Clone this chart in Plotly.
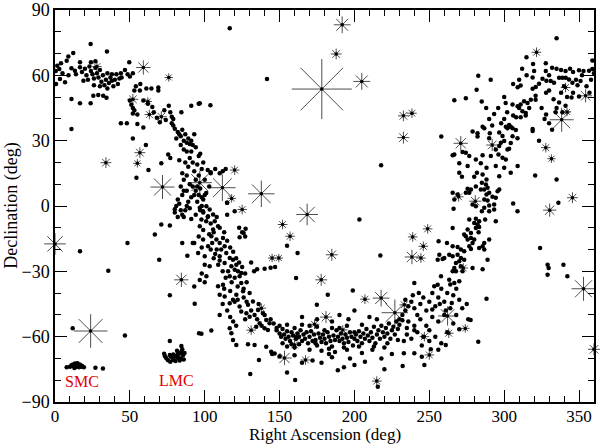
import plotly.graph_objects as go

# ------------------------------------------------------------
# source positions (RA deg, Dec deg)
# ------------------------------------------------------------

north_west = [
    [0.5, 62], [1.5, 64.4], [2.9, 62.9], [0.7, 56], [3.3, 58.3], [7.8, 66.7], [8.9, 68.7],
    [12.2, 70.3], [16.7, 66], [16.7, 63.7], [11, 63.2], [13.3, 62.1], [6.7, 56.8], [5, 61],
    [9, 60], [4, 65.5], [14, 60.5], [18, 61.5], [20, 63], [21, 60], [22, 58], [23, 64],
    [24, 62], [25, 60.5], [26, 58.5], [27, 63.5], [28, 61], [29, 59], [30, 62.5], [31, 57],
    [32, 60], [33, 55.5], [34, 58], [35, 61], [36, 56.5], [37, 59], [38, 57.5], [39, 55],
    [40, 58], [41, 60.5], [42, 56], [43, 58.5], [44, 61], [19, 57.5], [23.8, 74.4],
    [34.7, 70.9], [26, 55.5], [30, 55], [35, 54], [38, 60.5], [24, 66], [27, 66.5],
    [11, 49.1], [16.7, 47.2], [11, 35.3], [23.8, 47.2], [25.6, 50.6], [28.9, 51],
    [32.2, 50.6], [34.4, 49.7], [49.6, 66], [46.7, 62.5], [48.5, 60.5], [50, 59.5],
    [52, 61], [44.5, 59], [54, 55], [53, 53], [56.7, 53], [61, 54], [64.4, 54], [69, 54.4],
    [69, 53], [57, 56], [50, 48.5], [51, 46.5], [52, 45], [53, 44], [55, 42], [52, 42.5],
    [59, 48.5], [62, 47], [65, 45.5], [66, 43], [68, 40.5], [73, 44], [76, 46], [77, 43],
    [78, 41], [79, 40], [78, 38], [84.4, 43], [91, 46], [96, 47], [103.8, 46.3], [70, 38.5],
    [74, 39.5], [44, 38], [48, 38], [55, 37.6], [59, 36], [52, 31], [60.7, 28],
]

band_west = [
    [79, 37], [80, 35.5], [82, 34], [83, 33], [84, 32], [86, 30], [88, 29], [90, 28.5],
    [92, 28], [93, 33], [81, 31], [85, 35], [87, 33], [89, 31], [91, 30], [94, 27], [84, 28],
    [86, 26], [88, 25], [83, 21], [85, 15], [86, 12], [88, 14], [89, 18], [90, 22], [91, 25],
    [92, 20], [93, 16], [94, 12], [95, 19], [96, 23], [87, 20], [84, 9], [85, 5], [86, 7],
    [92, 9], [93, 5], [94, 7], [80, -3], [81, 0], [82, 3], [83, 1], [84, -2], [85, -4],
    [86, -5], [87, -2], [88, 0], [89, 2], [90, -1], [91, -6], [94, -4], [95, 2], [96, 5],
    [97, -2], [98, 0], [97, 8], [96, 14], [95, 9], [98, 4], [99, -3], [90, 10], [88, 7],
    [91, 4], [80, -1.5], [82, -5], [96.7, -0.8], [98.9, -2.4], [101.1, -0.1], [103.3, -1.6],
    [102.2, -4.7], [105.6, -3.9], [106.7, -7], [108.9, -9.3], [105.6, -10.8], [104.4, -13.9],
    [107.8, -15.4], [110, -17], [112.2, -14.7], [113.3, -18.5], [114.4, -21.6], [116.7, -23.9],
    [118.9, -24.7], [117.8, -27.7], [121.1, -27], [122.2, -30], [124.4, -30.8], [124.4, -35.4],
    [116.7, -32.3], [112.2, -36.2], [108.9, -36.9], [101.1, -32.3], [103.3, -27.7], [100, -23.1],
    [98.9, -15.4], [102.2, -18.5], [110, -23.1], [113.3, -26.2], [123.3, -32.3], [115.6, -30],
    [120, -29.3], [96.7, -9.3], [97.8, -6.2], [100, 5], [102, -5], [104, -8], [106, -12],
    [108, -5], [110, -10], [111, -20], [113, -12], [115, -16], [117, -19], [119, -21],
    [121, -24], [123, -26], [125, -28], [127, -31], [108, -20], [106, -24], [109, -27],
    [112, -30], [114, -33], [118, -35], [120, -33], [122, -37], [126, -38], [128, -35],
    [99, -11], [101, -7], [103, -13], [105, -17], [107, -22], [110, -25], [104, -20],
    [98, -19], [100, -27], [99, 3], [101, 6], [103, 9], [100, 12], [104, 15], [107, 17],
    [110, 15], [112, 16], [114, 17], [102, 16.5], [99, 20], [97, 24], [98, 17], [100, -35],
    [98, -31], [115, 1.5], [120, -2.4], [115, -4], [123, -10], [125, -12], [127, -14],
    [123.3, -14.4], [126, -12.4], [127.3, -10.5],
]

south_arc = [
    [110, -40.8], [113.3, -41.5], [116.7, -44.6], [118.9, -43], [121.1, -40.8], [125.6, -39.2],
    [130, -40], [132.2, -43.9], [128.9, -45.4], [123.3, -46.2], [124.4, -48.5], [127.8, -49.2],
    [130, -50.8], [133.3, -50], [135.6, -47.7], [138.9, -49.2], [141.1, -52.3], [143.3, -53.8],
    [136.7, -53.8], [134.4, -55.4], [140, -56.1], [142.2, -56.9], [117.8, -58.4], [116.7, -56.1],
    [118.9, -61.5], [121.1, -63.8], [128.9, -63.5], [133.3, -63.8], [141.1, -64.6],
    [144.4, -66.9], [146.7, -67.7], [126, -42], [128, -44], [120, -44], [135, -52], [138, -55],
    [131, -48], [127, -52], [136, -45], [140, -50], [144, -52], [146, -54], [148, -56],
    [112, -45], [115, -48], [117, -51], [119, -53], [121, -55], [110, -50], [113, -38],
    [117, -39], [122, -43],
    [148, -57], [150, -58.5], [151, -60], [152, -56.5], [153, -59], [154, -61], [155, -57.5],
    [156, -60], [157, -62], [158, -58], [159, -59.5], [160, -56], [161, -61], [162, -58.5],
    [150, -55], [155, -54.5], [158, -63.5], [152, -63], [163, -60], [164, -57], [165, -62],
    [166, -59], [167, -61], [168, -58], [169, -63], [170, -60], [171, -57.5], [172, -62],
    [173, -59], [174, -61.5], [175, -64], [176, -58.5], [177, -60.5], [178, -62.5], [179, -59],
    [180, -61], [181, -63], [182, -58], [183, -60], [184, -62], [185, -64.5], [186, -59.5],
    [187, -61.5], [188, -57], [189, -60], [190, -62], [191, -58.5], [192, -61], [193, -63],
    [194, -59], [195, -60.5], [196, -62.5], [197, -58], [198, -60], [199, -64], [200, -61],
    [201, -59], [202, -62], [203, -57.5], [204, -60], [205, -63], [206, -58.5], [207, -61],
    [208, -56.5], [209, -59.5], [210, -62], [211, -58], [212, -60.5], [213, -55.5], [214, -63],
    [215, -59], [216, -57], [217, -61], [218, -55], [219, -58], [220, -60], [221, -56],
    [222, -58.5], [223, -54], [224, -61], [225, -57], [226, -55.5], [227, -59], [228, -53],
    [229, -56.5], [230, -54.5], [160, -65], [170, -66], [178, -66.5], [187, -67], [195, -66],
    [205, -67.5], [212, -66], [220, -65], [165, -54.5], [175, -55.5], [185, -56], [195, -55],
    [205, -54.5], [215, -52], [155, -64.5], [200, -58], [190, -56], [180, -57], [170, -55],
    [163, -63.5], [174, -63], [183, -65.5], [193, -65], [203, -64.5], [213, -64.5], [222, -63],
    [229, -61.5], [235, -59], [240, -57], [232, -52.5],
    [230, -52], [232, -50], [234, -48], [236, -46], [238, -44], [240, -47], [242, -50],
    [244, -45], [246, -42], [248, -48], [250, -44], [252, -40], [254, -46], [256, -42],
    [258, -38], [260, -44], [262, -40], [264, -36], [266, -41], [268, -38], [270, -43],
    [236, -53], [240, -55], [244, -52], [248, -55], [252, -51], [256, -53], [260, -50],
    [264, -47], [268, -50], [242, -58], [238, -61], [246, -60], [250, -57], [254, -60],
    [258, -63], [262, -58], [266, -54], [272, -47], [275, -45], [276, -52], [277.6, -52.3],
    [270, -56.6], [261, -63.8], [282.7, -62.3], [288.2, -42.6], [250, -62], [245, -64],
    [256, -66], [235, -56], [233, -62], [252, -47.5], [257, -45], [261, -48], [265, -44.5],
    [243, -40], [239, -41], [234, -43],
]

band_east = [
    [256.2, -16.2], [261.8, -17], [263.3, -22.4], [265.6, -23.1], [268.9, -22.4], [271.1, -23.9],
    [273.3, -24.7], [270, -25.4], [267.8, -26.2], [266.7, -28.5], [265.6, -30], [267.8, -30],
    [271.1, -27.7], [272.2, -30], [256.7, -22.4], [258.9, -24.3], [260, -23.9], [255.6, -24.7],
    [278.9, -28.5], [285.6, -29], [288.9, -24.7], [286.7, -20], [290, -15.4], [257.8, -32.3],
    [263.3, -33.9], [266.7, -35.4], [270, -34.6], [253.3, -36.9], [255.6, -36.2],
    [265.6, -18.5], [268.9, -18.8], [271.1, -20], [273.3, -20.8], [276.7, -18.5], [277.8, -19.7],
    [283.3, -19.3], [285.6, -18.5], [286.7, -17], [274.4, -13.9], [275.6, -15.4], [277.8, -14.7],
    [280, -15.4], [278.9, -17], [273.3, -13.1], [275.6, -10.8], [277.8, -12.4], [281.1, -10.1],
    [283.3, -9.6], [282.9, -12.1], [265.6, -10.1], [276.7, -6.2], [281.1, -5.9], [283.3, -7],
    [282.2, -8.5], [280, -7.8], [287.3, -6.2], [294.4, -7], [278.9, 0.7], [281.1, -0.1],
    [286.7, -0.8], [285.1, -2.4], [290, -2.4], [293.3, -1.6], [266.2, -1.3], [290, 6.1],
    [288.2, 5.3], [292.2, 4.2], [286.7, 3], [288.9, 2.5], [290, 0.2], [293.3, 0.7],
    [296.7, 7.6], [295.6, 6.8], [294.4, 3.8], [285.1, 10.7], [287.8, 9.9], [288.9, 8.4],
    [286.7, 7.6], [284.4, 7.6], [265.6, 6.1], [268.9, 5.3], [266.7, 3], [274.4, 6.1],
    [276.7, 6.1], [275.6, 7.9], [277.8, 7.6], [266.7, 23.7], [265.6, 23.3], [272.2, 24.8],
    [274.4, 24.5], [270, 19.6], [271.8, 13.4], [281.8, 15.3], [285.6, 23.3], [291.1, 23],
    [288.2, 17.6], [294.4, 18.4], [296.2, 23.7], [298.9, 22.2], [301.1, 21.4], [303.3, 26.3],
    [302.2, 26], [297.8, 29.1], [296.7, 27.6], [304.4, 15.3], [309, 18.4], [280, 13.4],
    [281.1, 9], [285.6, 14.5], [288.2, 12.2], [296.7, 13.7], [300, 17.6], [294.4, 26],
    [284.4, 19.6], [281.1, 21.4], [276.7, 23], [270, 15.3], [275.6, 18.4],
]

north_east = [
    [258, 31.9], [266.7, 48.6], [274.4, 49.5], [281.6, 53.4], [282.7, 59.8], [291, 58],
    [314.9, 68.3], [319.3, 65.2], [327.8, 65.5], [358.9, 66.8], [358.9, 62.9], [356.7, 62.1],
    [353, 62], [350, 62.3], [346, 61.5], [344, 63], [341, 62], [338, 62.5], [335, 63],
    [327.8, 62], [328.2, 57.5], [320, 62], [319, 59], [325.6, 58.4], [323.3, 56.1],
    [321.1, 54.6], [319, 53.8], [331.1, 57.4], [333.3, 56.6], [336.7, 58.9], [338.9, 58.9],
    [341.1, 58.9], [343.3, 58.1], [345.6, 56.6], [349, 55.5], [351, 57.4], [306, 56], [309, 54.5],
    [311, 55.3], [321, 50.6], [328, 52], [330, 53], [333, 49], [336.7, 47.5], [341, 46],
    [345, 49.8], [350, 50.3], [301, 47.3], [305.6, 46.6], [309, 45.8], [310, 45], [311, 46.6],
    [313.3, 48.1], [315.6, 47.3], [312.2, 43.5], [314.4, 42.7], [316.7, 45], [317.8, 48.8],
    [321, 48.8], [306, 41.5], [308, 40.8], [311, 40.8], [314.4, 41.5], [303.3, 37.2],
    [302.2, 35.7], [301.1, 36.4], [304.4, 36.4], [305.6, 35.7], [307.8, 34.9], [319, 35.3],
    [328, 42], [334.4, 43], [338.9, 43], [293.3, 42.2], [292, 37], [296.7, 33.7], [298.9, 32.2],
    [300, 29.9], [278.9, 34.2], [282.2, 33.4], [282.2, 31.9], [285.6, 36.4], [286.7, 35.7],
    [290.4, 33.4], [290, 31.1], [305.6, 32], [304.4, 28.9], [308.9, 31.1], [323.3, 30],
    [319, 34.4], [325, 45], [327, 40], [330, 38], [332, 35], [335, 45], [338, 52], [340, 55],
    [342, 50], [346, 52], [348, 58], [352, 60], [355, 55], [358, 58], [357, 52], [360, 61],
    [330, 60], [332, 63.5], [315, 60], [312, 63], [310, 58], [300, 50], [296, 45], [290, 40],
    [288, 45], [285, 48], [300, 40], [302, 43], [298, 38],
]

scattered = [
    [62.4, 16.5], [71, 19.6], [75.6, 23.7], [77, 22], [71, -8.5], [76.7, -8.9], [66.7, -13.1],
    [69.6, -24.7], [48.4, -17], [35.6, -29.7], [16.7, -20.8], [54.4, 13], [92, -17], [93, -17],
    [85, -17], [88.4, -22.8], [95.6, -21.6], [96, -14], [93, -37], [96.7, -34], [131, -26],
    [135, -29], [140, -28.8], [144, -28.3], [147, -28], [133, -30], [162, -21.6], [155, -18.2],
    [161, -33.1], [203.3, -6.2], [217.8, 18.7], [217.3, -22.7], [141.6, 58.3], [116.7, 81.6],
    [96.7, 47.2], [114.9, 1.5], [104, 15.5], [320.7, 14], [335, 12.2], [336.2, 1.5],
    [308.9, -2.4], [306, 1.2], [324, -19.3], [329, -27], [329.7, -28.5], [329, -31.6],
    [339.6, -27], [342.2, -32.3], [240, -35.4], [335, 77], [104.4, -57.2], [97.8, -58.7],
    [76.7, -41], [93.3, -44.9], [76.7, -62], [46.7, -59.5], [11.8, -56.1], [96.2, -58.4],
    [130.4, -77.2], [160.4, -79.9], [155, -76.4], [136.2, -70.7], [215.6, -83], [188.9, -75.4],
    [172, -71], [178, -72], [185, -69.5], [197, -70], [207, -71.5], [200, -73], [165, -72],
    [150, -69], [145, -68], [160, -68.5], [193, -74], [218, -70], [225, -68], [232.2, -73.5],
    [246.7, -73], [251, -65.8], [245, -69.2], [240, -67.6], [233, -67.6], [220, -75], [183, -68],
    [174.9, -45.4], [182.2, -40.8], [198.9, -38.8], [190, -50], [196, -52], [200, -48],
    [210, -51], [185, -53], [175, -52], [165, -51],
]

smc = [
    [7.8, -74.1], [11, -73.1], [13.3, -72.3], [14.5, -72.6], [15.5, -73.2], [14, -73.8],
    [12.5, -73.6], [16.5, -72.8], [17.8, -73.8], [19.3, -74], [12, -72.8], [15, -72.2],
    [16, -74], [10, -73.8], [13, -74.4], [18, -73.3], [27, -74.3], [32, -74.6],
]

lmc = [
    [72.9, -67.9], [74.4, -69.9], [76.7, -68.4], [77.5, -69.2], [78.9, -70.7], [80, -69],
    [81, -69.2], [82, -68], [83, -67.7], [84.4, -66.9], [84.4, -64.3], [85.5, -68.5],
    [86, -70.5], [83.3, -71], [80.5, -71.2], [79, -68.2], [75.5, -70.8], [77, -71.5],
    [82.5, -69.8], [84, -70], [86.5, -67.5], [85, -65.8], [81.5, -66.5], [73.5, -69],
]

# bright sources drawn as asterisks; weight ~ symbol span in px
star_ra = [178.2, 191.8, 187.8, 204.9, 59, 76, 28, 52, 62, 63, 71, 232.7, 238.4, 232.7, 321.6,
           271, 292, 327.8, 331.6, 338.4, 354.4, 342, 341, 34, 56.7, 55, 71.8, 0, 84.4,
           96.7, 111.8, 137.8, 120, 125, 118, 168.4, 152, 157, 145, 149.5, 184.9, 177.8,
           345.6, 330.4, 353, 269.6, 280.7, 248.9, 238.9, 246, 238.4, 244.4, 272.7,
           23.8, 217.8, 207, 227, 181, 173.3, 131, 137.8, 153.3, 160, 167.3, 214.9, 192.2, 161,
           262.2, 233.3, 246.7, 250, 274, 263, 360]
star_dec = [53.7, 83.2, 69.8, 57.2, 63.6, 59, 64, 49, 48, 42, 41, 41.4, 42.6, 31.4, 70.6,
            28.8, 28, 26.8, 21.7, 39.6, 50.6, 43.2, 54.4, 19.9, 24.5, 19.6, 8.7, -17.4, -33.9,
            10.7, 8.4, 5.6, 16.5, -1.6, 3.5, -3.9, -8.5, -13.9, -23.9, -23.9, -22.4, -33.9,
            3.8, -1.9, -38, 4.2, 2.2, -10.5, -14.2, -18.5, -23.4, -23.9, -28.5,
            -57.4, -42.3, -42.8, -49, -51, -54.3, -57, -46.9, -69.8, -63.8, -70.7, -80.4, -56.9, -60,
            -50.5, -45.4, -60, -68.4, -56.2, -58.4, -65.8]
star_weight = [50, 14, 9, 14, 12, 7, 8, 9, 7, 8, 9, 9, 8, 10, 8,
               12, 10, 8, 7, 20, 11, 7, 8, 9, 9, 7, 20, 18, 12,
               20, 22, 22, 8, 8, 7, 18, 8, 8, 7, 7, 10, 10,
               9, 11, 20, 8, 10, 8, 8, 8, 12, 8, 8,
               28, 14, 8, 22, 10, 8, 8, 8, 12, 8, 8, 8, 8, 8,
               16, 8, 8, 8, 7, 8, 10]

cloud_labels = ["SMC", "LMC"]
cloud_ra = [18, 81]
cloud_dec = [-80.5, -80]

SERIF = "Liberation Serif, Times New Roman, serif"

dots = north_west + band_west + south_arc + band_east + north_east + scattered + smc + lmc
dot_ra = [p[0] for p in dots]
dot_dec = [p[1] for p in dots]

fig = go.Figure()

fig.add_trace(go.Scatter(
    x=dot_ra, y=dot_dec, mode="markers",
    marker=dict(size=4.5, color="black", line=dict(width=0)),
    hoverinfo="x+y"
))

fig.add_trace(go.Scatter(
    x=star_ra, y=star_dec, mode="markers",
    marker=dict(symbol="asterisk-open", size=star_weight, color="black",
                line=dict(color="black", width=1)),
    cliponaxis=False
))

# centre dots of the asterisks live on the twin (top/right) axes so those get drawn
fig.add_trace(go.Scatter(
    x=star_ra, y=star_dec, mode="markers", xaxis="x2", yaxis="y2",
    marker=dict(size=3.5, color="black"),
    cliponaxis=False
))

for label, ra, dec in zip(cloud_labels, cloud_ra, cloud_dec):
    fig.add_annotation(x=ra, y=dec, text=label, showarrow=False,
                       font=dict(family=SERIF, size=16, color="#e00000"))

# axis titles as paper annotations so the plot box stays where the reference has it
fig.add_annotation(x=0.5, y=-0.083, xref="paper", yref="paper", yanchor="middle",
                   text="Right Ascension (deg)", showarrow=False,
                   font=dict(family=SERIF, size=17, color="black"))
fig.add_annotation(x=-0.082, y=0.5, xref="paper", yref="paper", xanchor="center",
                   text="Declination (deg)", textangle=-90, showarrow=False,
                   font=dict(family=SERIF, size=18, color="black"))

tick_style = dict(
    showgrid=False, zeroline=False, ticks="inside", ticklen=12, tickwidth=1.3,
    tickcolor="black", automargin=False,
)
minor_style = dict(ticklen=6, tickwidth=1.2, tickcolor="black", ticks="inside")

fig.update_layout(
    width=600, height=444,
    paper_bgcolor="white", plot_bgcolor="white",
    margin=dict(l=55, r=6, t=10, b=42),
    showlegend=False,
    font=dict(family=SERIF, color="black"),
    xaxis=dict(
        range=[0, 360], tick0=0, dtick=50, showline=True, linecolor="black", linewidth=1.5,
        mirror=True, tickfont=dict(family=SERIF, size=17, color="black"),
        ticklabelstandoff=-2,
        minor=dict(dtick=10, **minor_style), **tick_style
    ),
    yaxis=dict(
        range=[-90, 90], tick0=-90, dtick=30, showline=True, linecolor="black", linewidth=1.5,
        mirror=True, tickfont=dict(family=SERIF, size=18, color="black"),
        minor=dict(dtick=10, **minor_style), **tick_style
    ),
    xaxis2=dict(
        overlaying="x", side="top", range=[0, 360], tick0=0, dtick=50,
        showticklabels=False, showline=False,
        minor=dict(dtick=10, **minor_style), **tick_style
    ),
    yaxis2=dict(
        overlaying="y", side="right", range=[-90, 90], tick0=-90, dtick=30,
        showticklabels=False, showline=False,
        minor=dict(dtick=10, **minor_style), **tick_style
    ),
)

# the page's default body margin would push the 600x444 figure off the window
fig.write_html("out.html", config={"displayModeBar": False},
               post_script="document.body.style.margin = '0px';")
